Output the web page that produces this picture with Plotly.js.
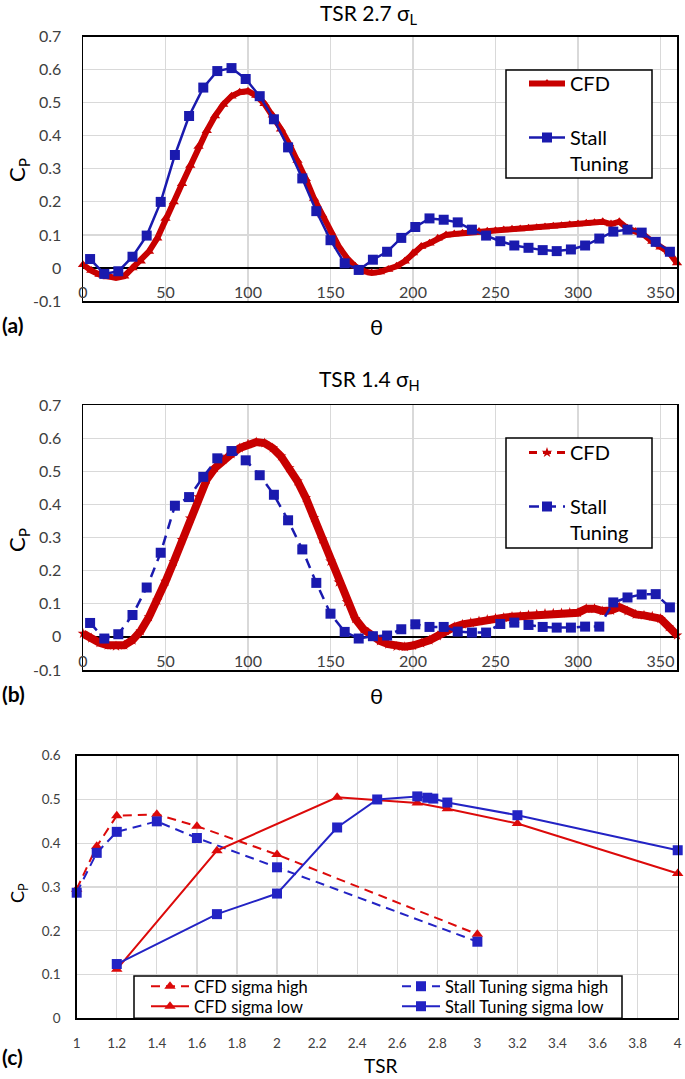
<!DOCTYPE html>
<html>
<head>
<meta charset="utf-8">
<script src="https://cdn.plot.ly/plotly-3.0.1.min.js"></script>
<style>
html,body{margin:0;padding:0;background:#fff;}
#chart{width:685px;height:1079px;}
</style>
</head>
<body>
<div id="chart"></div>
<script>
// ---------------- DATA ----------------
// Panel (a): TSR 2.7 sigma L
const thetaCFD = [0,5,10,15,20,25,30,35,40,45,50,55,60,65,70,75,80,85,90,95,100,105,110,115,120,125,130,135,140,145,150,155,160,165,170,175,180,185,190,195,200,205,210,215,220,225,230,235,240,245,250,255,260,265,270,275,280,285,290,295,300,305,310,315,320,325,330,335,340,345,350,355,360];
const cpA_CFD = [0.01,-0.008,-0.02,-0.027,-0.03,-0.025,0.0,0.02,0.05,0.09,0.15,0.2,0.255,0.31,0.368,0.415,0.46,0.495,0.52,0.532,0.535,0.522,0.497,0.462,0.42,0.375,0.325,0.27,0.21,0.16,0.11,0.065,0.03,0.005,-0.01,-0.015,-0.012,-0.005,0.005,0.02,0.045,0.065,0.075,0.09,0.1,0.103,0.105,0.108,0.11,0.111,0.113,0.115,0.117,0.118,0.12,0.122,0.124,0.126,0.128,0.131,0.133,0.135,0.137,0.14,0.133,0.14,0.12,0.11,0.1,0.08,0.063,0.048,0.015];
const thetaST = [4.3,12.9,21.4,30.0,38.6,47.1,55.7,64.3,72.9,81.4,90.0,98.6,107.1,115.7,124.3,132.9,141.4,150.0,158.6,167.1,175.7,184.3,192.9,201.4,210.0,218.6,227.1,235.7,244.3,252.9,261.4,270.0,278.6,287.1,295.7,304.3,312.9,321.4,330.0,338.6,347.1,355.7];
const cpA_ST = [0.027,-0.018,-0.01,0.034,0.098,0.2,0.342,0.46,0.546,0.596,0.605,0.572,0.52,0.45,0.365,0.271,0.172,0.084,0.014,-0.006,0.025,0.049,0.091,0.124,0.15,0.146,0.138,0.116,0.098,0.081,0.068,0.061,0.054,0.051,0.056,0.068,0.089,0.11,0.116,0.107,0.079,0.049];

// Panel (b): TSR 1.4 sigma H
const cpB_CFD = [0.01,-0.004,-0.018,-0.025,-0.028,-0.025,-0.01,0.018,0.06,0.11,0.167,0.227,0.293,0.358,0.422,0.475,0.51,0.535,0.552,0.57,0.582,0.588,0.585,0.57,0.545,0.51,0.47,0.42,0.36,0.295,0.228,0.165,0.105,0.055,0.023,0.003,-0.012,-0.022,-0.029,-0.03,-0.026,-0.019,-0.01,0.003,0.018,0.03,0.038,0.043,0.048,0.052,0.056,0.058,0.061,0.063,0.066,0.068,0.07,0.071,0.072,0.073,0.073,0.085,0.085,0.078,0.08,0.09,0.078,0.068,0.065,0.062,0.055,0.03,0.005];
const cpB_ST = [0.042,-0.005,0.008,0.066,0.149,0.254,0.396,0.422,0.483,0.539,0.561,0.533,0.488,0.429,0.352,0.264,0.163,0.07,0.015,-0.005,0.002,0.004,0.023,0.038,0.03,0.03,0.016,0.013,0.013,0.039,0.043,0.036,0.03,0.028,0.028,0.031,0.031,0.104,0.119,0.128,0.129,0.089];

// Panel (c): Cp vs TSR
const tsrHigh = [1.0,1.1,1.2,1.4,1.6,2.0,3.0];
const cpCFDHigh = [0.295,0.393,0.463,0.466,0.439,0.374,0.192];
const cpSTHigh = [0.287,0.378,0.426,0.45,0.412,0.345,0.175];
const tsrCFDLow = [1.2,1.7,2.3,2.7,2.85,3.2,4.0];
const cpCFDLow = [0.112,0.383,0.505,0.492,0.479,0.445,0.331];
const tsrSTLow = [1.2,1.7,2.0,2.3,2.5,2.7,2.75,2.78,2.85,3.2,4.0];
const cpSTLow = [0.124,0.238,0.285,0.436,0.50,0.507,0.504,0.502,0.493,0.464,0.384];

// Tick labels
const thetaTickVals = [0,50,100,150,200,250,300,350];
const thetaTickText = ['0','50','100','150','200','250','300','350'];
const cpTickValsAB = [-0.1,0,0.1,0.2,0.3,0.4,0.5,0.6,0.7];
const cpTickTextAB = ['-0.1','0','0.1','0.2','0.3','0.4','0.5','0.6','0.7'];
const tsrTickVals = [1,1.2,1.4,1.6,1.8,2,2.2,2.4,2.6,2.8,3,3.2,3.4,3.6,3.8,4];
const tsrTickText = ['1','1.2','1.4','1.6','1.8','2','2.2','2.4','2.6','2.8','3','3.2','3.4','3.6','3.8','4'];
const cpTickValsC = [0,0.1,0.2,0.3,0.4,0.5,0.6];
const cpTickTextC = ['0','0.1','0.2','0.3','0.4','0.5','0.6'];

// ---------------- STYLE ----------------
const W = 685, H = 1079;
const px = v => v / W;
const py = v => 1 - v / H;
const FONT = 'Lato, "Open Sans", "Liberation Sans", sans-serif';
const RED = '#c80000';
const RED_C = '#dc0a0a';
const BLUE = '#1a1aae';
const BLUE_C = '#2323c4';
const GRID = '#d9d9d9';
const TICKC = '#404040';

function xAxisTheta(yref) {
  return {
    domain: [px(83), px(677)], anchor: yref, range: [0, 360],
    tickmode: 'array', tickvals: thetaTickVals, ticktext: thetaTickText,
    ticklabelposition: 'inside', ticklabeloverflow: 'allow', ticks: '',
    tickfont: {family: FONT, size: 16, color: TICKC},
    showgrid: true, gridcolor: GRID, gridwidth: 1.2,
    showline: true, mirror: true, linecolor: '#000', linewidth: 1.5,
    zeroline: false, fixedrange: true
  };
}
function yAxisCp(xref, top, bottom) {
  return {
    domain: [py(bottom), py(top)], anchor: xref, range: [-0.1, 0.7],
    tickmode: 'array', tickvals: cpTickValsAB, ticktext: cpTickTextAB,
    ticks: '', ticklabelstandoff: 17,
    tickfont: {family: FONT, size: 16, color: TICKC},
    showgrid: true, gridcolor: GRID, gridwidth: 1.2,
    showline: true, mirror: true, linecolor: '#000', linewidth: 1.5,
    zeroline: true, zerolinecolor: '#000', zerolinewidth: 1.5, fixedrange: true
  };
}

const traces = [
  {x: thetaCFD, y: cpA_CFD, xaxis: 'x', yaxis: 'y', name: 'CFD', mode: 'lines+markers',
   line: {color: RED, width: 6}, marker: {symbol: 'triangle-up', size: 9, color: RED},
   legend: 'legend', legendgroup: 'a1', cliponaxis: false},
  {x: thetaST, y: cpA_ST, xaxis: 'x', yaxis: 'y', name: 'Stall<br>Tuning', mode: 'lines+markers',
   line: {color: BLUE, width: 2.5}, marker: {symbol: 'square', size: 10, color: BLUE},
   legend: 'legend', legendgroup: 'a2', cliponaxis: false},

  {x: thetaCFD, y: cpB_CFD, xaxis: 'x2', yaxis: 'y2', name: 'CFD band', mode: 'lines',
   line: {color: RED, width: 8}, showlegend: false, hoverinfo: 'skip'},
  {x: thetaCFD, y: cpB_CFD, xaxis: 'x2', yaxis: 'y2', name: 'CFD', mode: 'lines+markers',
   line: {color: RED, width: 3, dash: '8px,6px'}, marker: {symbol: 'star', size: 8, color: RED},
   legend: 'legend2', legendgroup: 'b1', cliponaxis: false},
  {x: thetaST, y: cpB_ST, xaxis: 'x2', yaxis: 'y2', name: 'Stall<br>Tuning', mode: 'lines+markers',
   line: {color: BLUE, width: 2.5, dash: '10px,7px'}, marker: {symbol: 'square', size: 10, color: BLUE},
   legend: 'legend2', legendgroup: 'b2', cliponaxis: false},

  {x: tsrHigh, y: cpCFDHigh, xaxis: 'x3', yaxis: 'y3', name: 'CFD sigma high', mode: 'lines+markers',
   line: {color: RED_C, width: 2, dash: '9px,6px'}, marker: {symbol: 'triangle-up', size: 10, color: RED_C},
   legend: 'legend3', cliponaxis: false},
  {x: tsrHigh, y: cpSTHigh, xaxis: 'x3', yaxis: 'y3', name: 'Stall Tuning sigma high', mode: 'lines+markers',
   line: {color: BLUE_C, width: 2, dash: '9px,6px'}, marker: {symbol: 'square', size: 10, color: BLUE_C},
   legend: 'legend3', cliponaxis: false},
  {x: tsrCFDLow, y: cpCFDLow, xaxis: 'x3', yaxis: 'y3', name: 'CFD sigma low', mode: 'lines+markers',
   line: {color: RED_C, width: 2}, marker: {symbol: 'triangle-up', size: 10, color: RED_C},
   legend: 'legend4', cliponaxis: false},
  {x: tsrSTLow, y: cpSTLow, xaxis: 'x3', yaxis: 'y3', name: 'Stall Tuning sigma low', mode: 'lines+markers',
   line: {color: BLUE_C, width: 2}, marker: {symbol: 'square', size: 10, color: BLUE_C},
   legend: 'legend4', cliponaxis: false}
];

const ann = (text, x, y, size, opts) => Object.assign({
  text: text, xref: 'paper', yref: 'paper', x: px(x), y: py(y),
  xanchor: 'center', yanchor: 'middle', showarrow: false,
  font: {family: FONT, size: size, color: '#000'}
}, opts || {});

const legendV = top => ({
  x: px(524), y: py(top), xanchor: 'left', yanchor: 'top',
  bgcolor: 'rgba(0,0,0,0)', borderwidth: 0, valign: 'top',
  traceorder: 'grouped', tracegroupgap: 25, itemwidth: 36,
  font: {family: FONT, size: 20, color: '#000'}
});
const legendH = top => ({
  x: px(146), y: py(top), xanchor: 'left', yanchor: 'top',
  orientation: 'h', entrywidth: 198, itemwidth: 38,
  bgcolor: 'rgba(0,0,0,0)', borderwidth: 0,
  font: {family: FONT, size: 16.5, color: '#000'}
});

const layout = {
  width: W, height: H,
  margin: {l: 0, r: 0, t: 0, b: 0},
  paper_bgcolor: '#fff', plot_bgcolor: '#fff',
  font: {family: FONT, color: '#000'},
  xaxis: xAxisTheta('y'),
  yaxis: yAxisCp('x', 36.7, 301),
  xaxis2: xAxisTheta('y2'),
  yaxis2: yAxisCp('x2', 405, 670),
  xaxis3: {
    domain: [px(76.7), px(677.7)], anchor: 'y3', range: [1, 4],
    tickmode: 'array', tickvals: tsrTickVals, ticktext: tsrTickText,
    ticks: '', ticklabelstandoff: 12,
    tickfont: {family: FONT, size: 13.5, color: TICKC},
    showgrid: true, gridcolor: GRID, gridwidth: 1.2,
    showline: true, mirror: true, linecolor: '#000', linewidth: 1.5,
    zeroline: false, fixedrange: true
  },
  yaxis3: {
    domain: [py(1018.3), py(755.7)], anchor: 'x3', range: [0, 0.6],
    tickmode: 'array', tickvals: cpTickValsC, ticktext: cpTickTextC,
    ticks: '', ticklabelstandoff: 12,
    tickfont: {family: FONT, size: 13.5, color: TICKC},
    showgrid: true, gridcolor: GRID, gridwidth: 1.2,
    showline: true, mirror: true, linecolor: '#000', linewidth: 1.5,
    zeroline: false, fixedrange: true
  },
  legend: legendV(64),
  legend2: legendV(433),
  legend3: legendH(969),
  legend4: legendH(989),
  shapes: [
    {type: 'rect', xref: 'paper', yref: 'paper', x0: px(506), x1: px(652), y0: py(70), y1: py(178),
     fillcolor: '#fff', line: {color: '#000', width: 1.5}, layer: 'above'},
    {type: 'rect', xref: 'paper', yref: 'paper', x0: px(506), x1: px(652), y0: py(438), y1: py(548),
     fillcolor: '#fff', line: {color: '#000', width: 1.5}, layer: 'above'},
    {type: 'rect', xref: 'paper', yref: 'paper', x0: px(134), x1: px(622), y0: py(976), y1: py(1018.3),
     fillcolor: '#fff', line: {color: '#000', width: 1.5}, layer: 'above'}
  ],
  annotations: [
    ann('TSR 2.7 σ<sub>L</sub>', 369, 14, 21),
    ann('C<sub>P</sub>', 18, 170, 22, {textangle: -90}),
    ann('θ', 376, 326, 22),
    ann('<b>(a)</b>', 0, 324, 21, {xanchor: 'left'}),
    ann('TSR 1.4 σ<sub>H</sub>', 369, 380, 21),
    ann('C<sub>P</sub>', 18, 540, 22, {textangle: -90}),
    ann('θ', 376, 695, 22),
    ann('<b>(b)</b>', 0, 693, 21, {xanchor: 'left'}),
    ann('C<sub>P</sub>', 18, 893, 18, {textangle: -90}),
    ann('TSR', 380, 1065, 19),
    ann('<b>(c)</b>', 0, 1056, 21, {xanchor: 'left'})
  ],
  showlegend: true
};

Plotly.newPlot('chart', traces, layout, {staticPlot: true, displayModeBar: false});
</script>
</body>
</html>
